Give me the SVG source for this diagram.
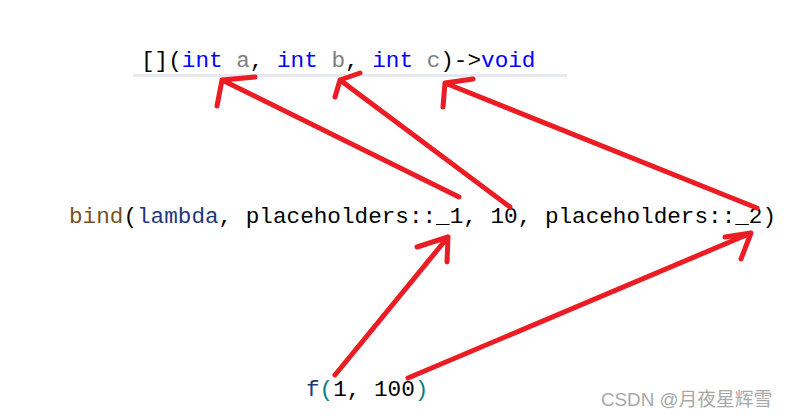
<svg xmlns="http://www.w3.org/2000/svg" width="786" height="418" viewBox="0 0 786 418">
  <style>
    .code { font-family: "Liberation Mono", "DejaVu Sans Mono", monospace; font-size: 22.67px; fill: #000; }
    .kw { fill: #0000ff; }
    .param { fill: #808080; }
    .fn { fill: #74531f; }
    .var { fill: #1f377f; }
    .paren { fill: #008080; }
    .arrow { fill: none; stroke: #ec1c24; stroke-width: 5; stroke-linecap: round; stroke-linejoin: round; }
    .wm { font-family: "Liberation Sans", "Noto Sans CJK SC", sans-serif; font-size: 18.8px; fill: #a8a8a8; }
  </style>
  <rect width="786" height="418" fill="#ffffff"/>

  <g id="lambda-signature">
    <line x1="133" y1="75.5" x2="567" y2="75.5" stroke="#e8e8f0" stroke-width="3"/>
    <text class="code" x="141" y="67">[](<tspan class="kw">int</tspan> <tspan class="param">a</tspan>, <tspan class="kw">int</tspan> <tspan class="param">b</tspan>, <tspan class="kw">int</tspan> <tspan class="param">c</tspan>)-&gt;<tspan class="kw">void</tspan></text>
  </g>

  <g id="bind-expression">
    <text class="code" x="69" y="223"><tspan class="fn">bind</tspan>(<tspan class="var">lambda</tspan>, placeholders::_1, 10, placeholders::_2)</text>
  </g>

  <g id="call-expression">
    <text class="code" x="306" y="396"><tspan class="var">f</tspan><tspan class="paren">(</tspan>1, 100<tspan class="paren">)</tspan></text>
  </g>

  <g id="connectors">
    <path class="arrow" d="M459,197 L222,80 M255,77 L222,80 L217,106"/>
    <path class="arrow" d="M510,207 L340,80 M360,73 L340,80 L335,97"/>
    <path class="arrow" d="M757,208 L445,83 M473,79 L445,83 L443,107"/>
    <path class="arrow" d="M335,375 L448,237 M417,247 L448,237 L447,262"/>
    <path class="arrow" d="M408,378 L751,233 M725,237 L751,233 L741,259"/>
  </g>

  <g id="watermark">
    <text class="wm" x="601" y="406">CSDN @月夜星辉雪</text>
  </g>
</svg>
